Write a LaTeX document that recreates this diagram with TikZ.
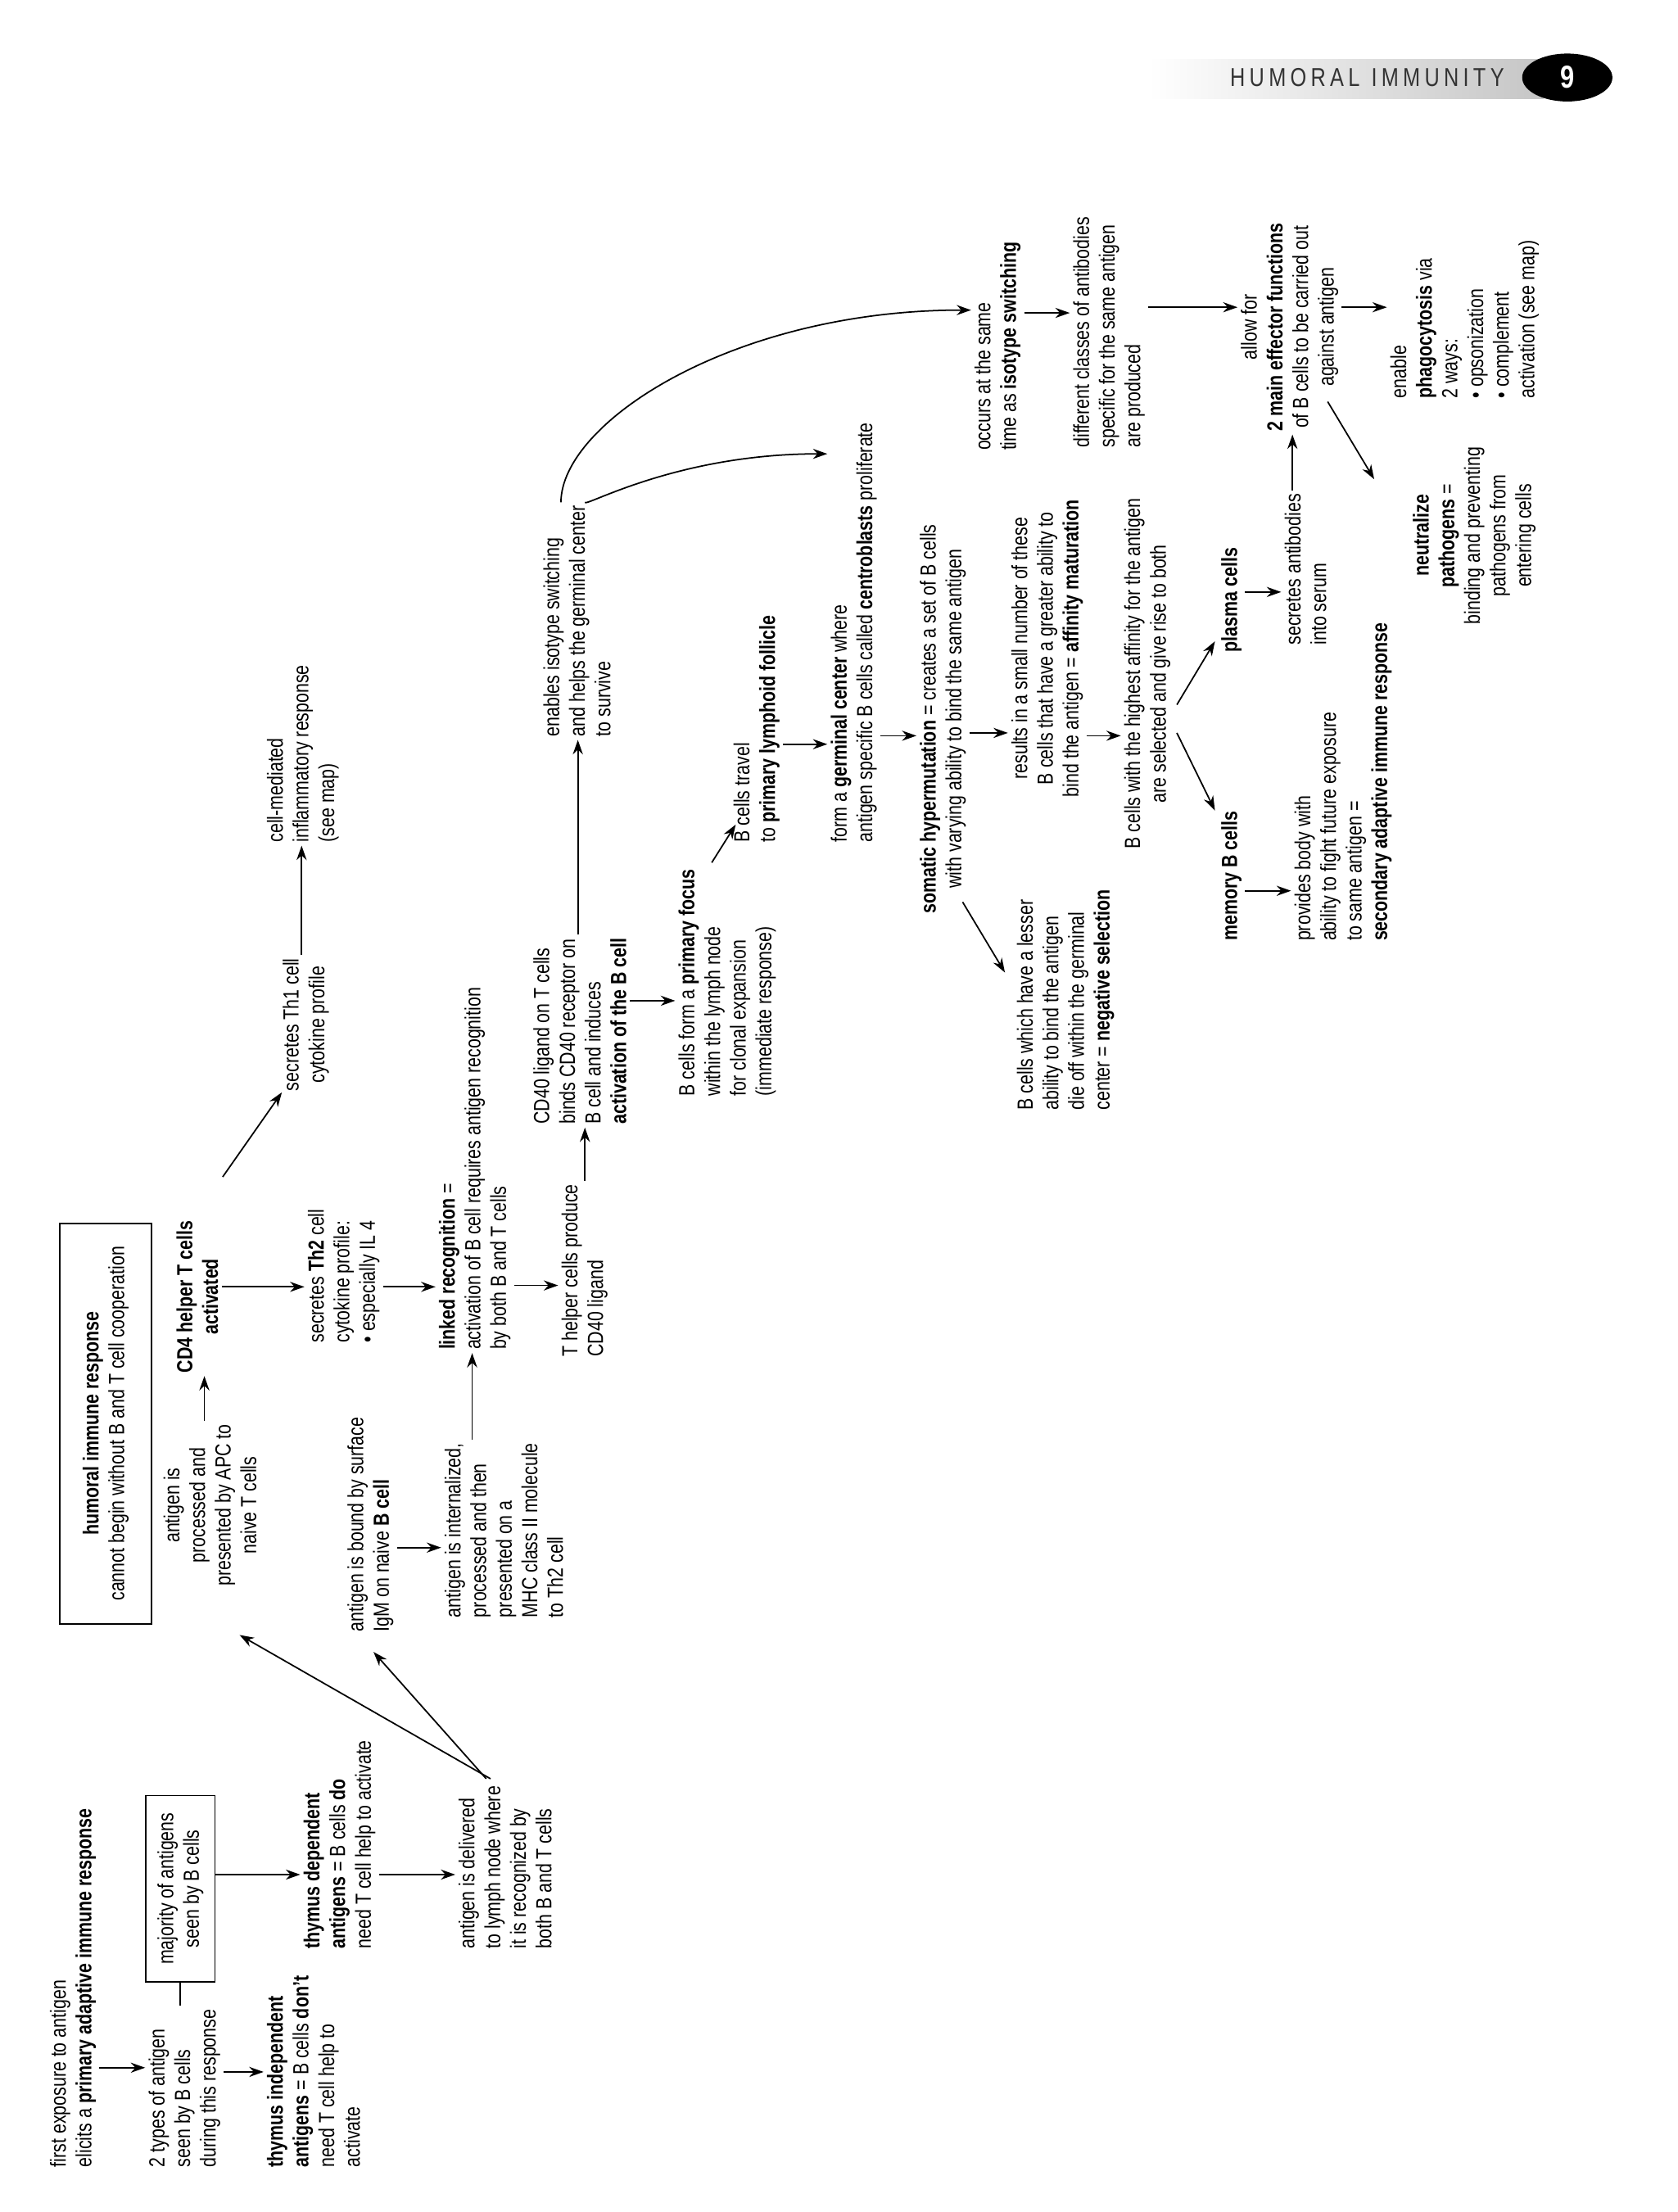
\documentclass[tikz,border=0pt]{standalone}
\usepackage{fontspec}
\setmainfont{Liberation Sans}[FakeStretch=0.8]
\usetikzlibrary{arrows.meta,shadings,shapes.geometric,calc}
\begin{document}
\begin{tikzpicture}[x=0.172mm,y=-0.172mm,
  txt/.style={rotate=90,font=\fontsize{7.6}{8.9}\selectfont,inner sep=1pt,align=left,anchor=north west},
  ctxt/.style={txt,align=center,anchor=center},
  boxed/.style={ctxt,draw,line width=0.5pt,inner xsep=6pt,inner ysep=4pt},
  arr/.style={-{Stealth[length=5pt,width=3.5pt]},line width=0.5pt},
  ln/.style={line width=0.5pt}]
\useasboundingbox[fill=white] (0,0) rectangle (1190,1569.4);
% header
\shade[left color=white,right color=gray!45] (815,42) rectangle (1095,70);
\node[font=\fontsize{9}{11}\selectfont,text=black!80] (hd) at (970,55) {H\,U\,M\,O\,R\,A\,L\ \ I\,M\,M\,U\,N\,I\,T\,Y};
\node[ellipse,fill=black,minimum width=64*0.172mm,minimum height=34*0.172mm,inner sep=0pt,text=white,font=\bfseries\fontsize{11}{12}\selectfont] (pg) at (1112,55) {9};
% nodes
\node[txt] (n1) at (33,1540) {first exposure to antigen\\elicits a \textbf{primary adaptive immune response}};
\node[txt] (n2) at (103,1540) {2 types of antigen\\seen by B cells\\during this response};
\node[boxed] (maj) at (128,1340) {majority of antigens\\seen by B cells};
\node[txt] (ti) at (187,1540) {\textbf{thymus independent}\\\textbf{antigens} = B cells \textbf{don't}\\need T cell help to\\activate};
\node[txt] (td) at (213,1385) {\textbf{thymus dependent}\\\textbf{antigens} = B cells \textbf{do}\\need T cell help to activate};
\node[txt] (del) at (323,1385) {antigen is delivered\\to lymph node where\\it is recognized by\\both B and T cells};
\node[boxed,inner xsep=8pt,inner ysep=8pt] (hum) at (75,1010) {\textbf{humoral immune response}\\cannot begin without B and T cell cooperation};
\node[ctxt] (apc) at (149,1068) {antigen is\\processed and\\presented by APC to\\naive T cells};
\node[ctxt] (cd4) at (140,920) {\textbf{CD4 helper T cells}\\\textbf{activated}};
\node[txt] (th2) at (216,955) {secretes \textbf{Th2} cell\\cytokine profile:\\• especially IL 4};
\node[txt] (bound) at (244,1160) {antigen is bound by surface\\IgM on naive \textbf{B cell}};
\node[txt] (intern) at (313,1150) {antigen is internalized,\\processed and then\\presented on a\\MHC class II molecule\\to Th2 cell};
\node[txt] (linked) at (309,960) {\textbf{linked recognition} =\\activation of B cell requires antigen recognition\\by both B and T cells};
\node[txt] (thelp) at (396,965) {T helper cells produce\\CD40 ligand};
\node[ctxt] (th1) at (217,727) {secretes Th1 cell\\cytokine profile};
\node[txt] (cellmed) at (187,600) {cell-mediated\\inflammatory response\\(see map)};
\node[txt] (cd40) at (376,800) {CD40 ligand on T cells\\binds CD40 receptor on\\B cell and induces\\\textbf{activation of the B cell}};
\node[txt] (pf) at (479,780) {B cells form a \textbf{primary focus}\\within the lymph node\\for clonal expansion\\(immediate response)};
\node[txt] (en) at (383,525) {enables isotype switching\\and helps the germinal center\\to survive};
\node[txt] (trav) at (518,600) {B cells travel\\to \textbf{primary lymphoid follicle}};
\node[txt] (germ) at (587,600) {form a \textbf{germinal center} where\\antigen specific B cells called \textbf{centroblasts} proliferate};
\node[ctxt] (som) at (669,510) {\textbf{somatic hypermutation} = creates a set of B cells\\with varying ability to bind the same antigen};
\node[txt] (less) at (719,790) {B cells which have a lesser\\ability to bind the antigen\\die off within the germinal\\center = \textbf{negative selection}};
\node[ctxt] (res) at (743,460) {results in a small number of these\\B cells that have a greater ability to\\bind the antigen = \textbf{affinity maturation}};
\node[ctxt] (high) at (814,478) {B cells with the highest affinity for the antigen\\are selected and give rise to both};
\node[txt] (mem) at (864,670) {\textbf{memory B cells}};
\node[txt] (prov) at (916,670) {provides body with\\ability to fight future exposure\\to same antigen =\\\textbf{secondary adaptive immune response}};
\node[txt] (plas) at (864,465) {\textbf{plasma cells}};
\node[txt] (ser) at (909,460) {secretes antibodies\\into serum};
\node[txt] (iso) at (689,322) {occurs at the same\\time as \textbf{isotype switching}};
\node[txt] (diff) at (759,320) {different classes of antibodies\\specific for the same antigen\\are produced};
\node[ctxt] (eff) at (915,232) {allow for\\\textbf{2 main effector functions}\\of B cells to be carried out\\against antigen};
\node[txt] (phago) at (984,285) {enable\\\textbf{phagocytosis} via\\2 ways:\\• opsonization\\• complement\\activation (see map)};
\node[ctxt] (neu) at (1046,380) {\textbf{neutralize}\\\textbf{pathogens} =\\binding and preventing\\pathogens from\\entering cells};
% connector ends for diagonals
\coordinate (delA) at (348,1262); \coordinate (apcE) at (170,1160);
\coordinate (delB) at (345,1262); \coordinate (boundE) at (265,1172);
\coordinate (cd4A) at (158,835); \coordinate (th1E) at (200,775);
\coordinate (pfA) at (505,612); \coordinate (travE) at (522,585);
\coordinate (somA) at (683,640); \coordinate (lessE) at (713,690);
\coordinate (highA) at (835,500); \coordinate (plasE) at (862,455);
\coordinate (highB) at (835,520); \coordinate (memE) at (862,575);
\coordinate (effA) at (942,285); \coordinate (neuE) at (975,340);
% connectors
\draw[arr] (n1.south |- 0,1467) -- (n2.north |- 0,1467);
\draw[arr] (n2.south |- 0,1470) -- (ti.north |- 0,1470);
\draw[ln] (maj.west) -- (maj.west |- n2.east);
\draw[arr] (maj.south |- 0,1330) -- (td.north |- 0,1330);
\draw[arr] (td.south |- 0,1330) -- (del.north |- 0,1330);
\draw[arr] (delA) -- (apcE);
\draw[arr] (delB) -- (boundE);
\draw[arr] (apc.east -| 145,0) -- (cd4.west -| 145,0);
\draw[arr] (cd4.south |- 0,913) -- (th2.north |- 0,913);
\draw[arr] (th2.south |- 0,913) -- (linked.north |- 0,913);
\draw[arr] (bound.south |- 0,1098) -- (intern.north |- 0,1098);
\draw[arr] (intern.east -| 335,0) -- (linked.west -| 335,0);
\draw[arr] (linked.south |- 0,912) -- (thelp.north |- 0,912);
\draw[arr] (thelp.east -| 415,0) -- (cd40.west -| 415,0);
\draw[arr] (cd4A) -- (th1E);
\draw[arr] (th1.east -| 214,0) -- (cellmed.west -| 214,0);
\draw[arr] (cd40.south |- 0,710) -- (pf.north |- 0,710);
\draw[arr] (cd40.east -| 410,0) -- (en.west -| 410,0);
\draw[arr] (pfA) -- (travE);
\draw[arr] (trav.south |- 0,528) -- (germ.north |- 0,528);
\draw[arr] (germ.south |- 0,522) -- (som.north |- 0,522);
\draw[arr] (somA) -- (lessE);
\draw[arr] (som.south |- 0,520) -- (res.north |- 0,520);
\draw[arr] (res.south |- 0,522) -- (high.north |- 0,522);
\draw[arr] (highA) -- (plasE);
\draw[arr] (highB) -- (memE);
\draw[arr] (mem.south |- 0,632) -- (prov.north |- 0,632);
\draw[arr] (plas.south |- 0,420) -- (ser.north |- 0,420);
\draw[arr] (ser.east -| 917,0) -- (eff.west -| 917,0);
\draw[arr] (eff.south |- 0,218) -- (phago.north |- 0,218);
\draw[arr] (effA) -- (neuE);
\draw[arr] (iso.south |- 0,222) -- (diff.north |- 0,222);
\draw[arr] (diff.south |- 0,218) -- (eff.north |- 0,218);
\draw[arr] (en.east -| 398,0) .. controls (398,300) and (520,220) .. (iso.north |- 0,220);
\draw[arr] (en.east -| 415,0) .. controls (415,360) and (480,322) .. (germ.north |- 0,322);
\end{tikzpicture}
\end{document}
